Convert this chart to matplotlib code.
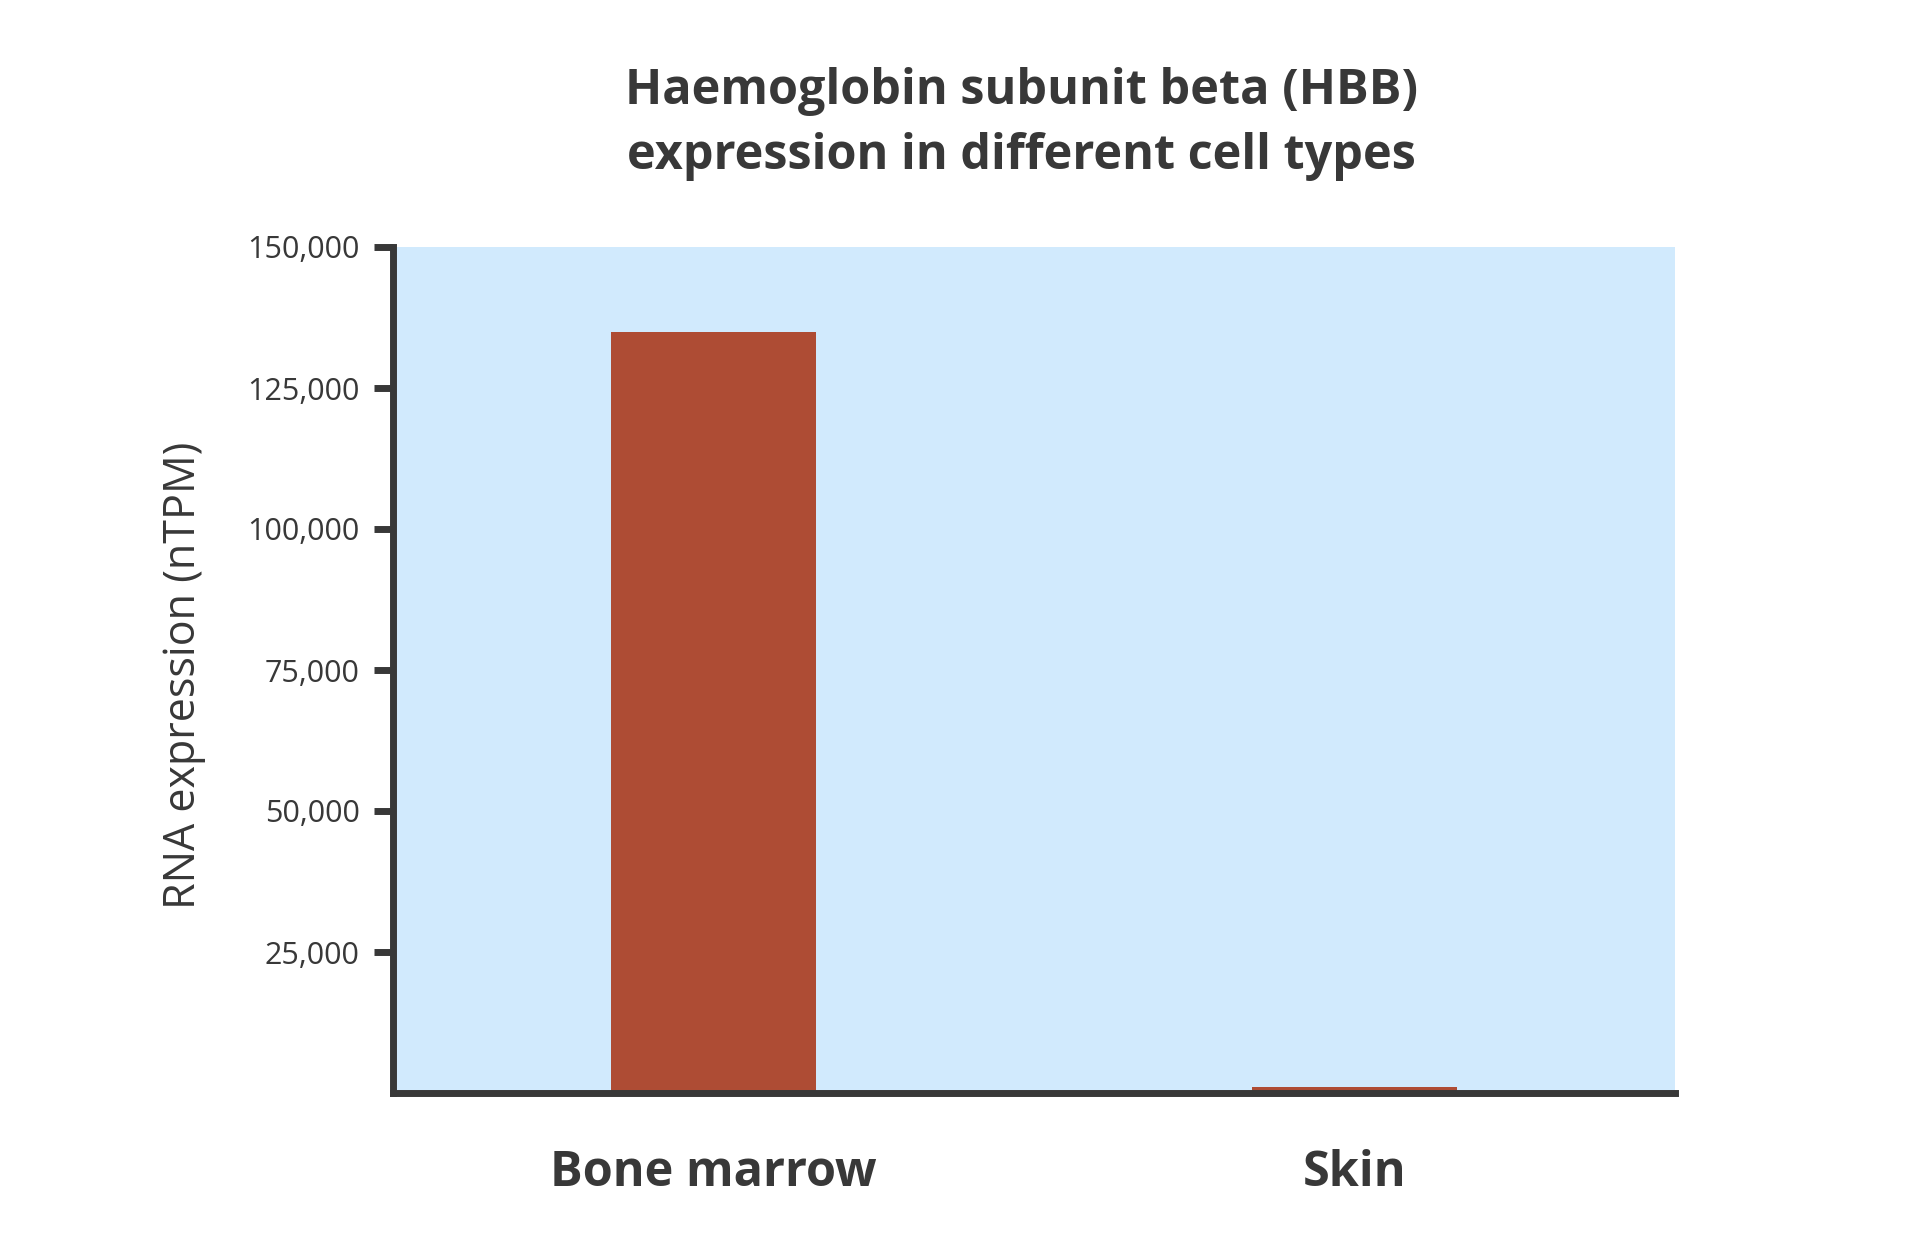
import matplotlib.pyplot as plt
from matplotlib.ticker import FuncFormatter

# data
cell_types = ['Bone marrow', 'Skin']
expression = [135000, 1100]
y_ticks = [25000, 50000, 75000, 100000, 125000, 150000]

text_color = '#383838'
bar_color = '#AE4C34'
bg_color = '#D1EAFD'

plt.rcParams['font.family'] = ['Open Sans', 'DejaVu Sans']

fig = plt.figure(figsize=(19.2, 12.5), dpi=100)
ax = fig.add_axes([0.2047, 0.1256, 0.8724 - 0.2047, 0.8024 - 0.1256])
ax.set_facecolor(bg_color)

x = range(len(cell_types))
ax.bar(x, expression, width=0.32, color=bar_color, zorder=2)

ax.set_xlim(-0.5, 1.5)
ax.set_ylim(0, 150000)

for side in ['top', 'right']:
    ax.spines[side].set_visible(False)
for side in ['left', 'bottom']:
    ax.spines[side].set_linewidth(5)
    ax.spines[side].set_color(text_color)
    ax.spines[side].set_zorder(3)
ax.spines['left'].set_capstyle('projecting')

ax.set_xticks(list(x))
ax.set_xticklabels(cell_types, fontsize=35, fontweight='bold', color=text_color)
ax.tick_params(axis='x', length=0, pad=40)

ax.set_yticks(y_ticks)
ax.yaxis.set_major_formatter(FuncFormatter(lambda v, p: f'{int(v):,}'))
ax.tick_params(axis='y', length=14, width=5, color=text_color,
               labelsize=22, labelcolor=text_color, pad=10)

ax.set_ylabel('RNA expression (nTPM)', fontsize=31, color=text_color)
ax.yaxis.set_label_coords(-0.146, 0.494)

fig.text(0.532, 1 - 124 / 1250,
         'Haemoglobin subunit beta (HBB)\nexpression in different cell types',
         ha='center', va='center', fontsize=35, fontweight='bold',
         color=text_color, linespacing=1.45)

fig.savefig('out.png', dpi=100, facecolor='white')
